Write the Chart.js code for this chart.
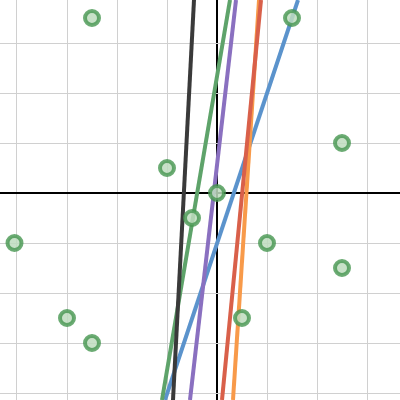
<!DOCTYPE html>
<html>
<head>
<meta charset="utf-8">
<script src="https://cdn.jsdelivr.net/npm/chart.js@4"></script>
<style>
  html, body { margin: 0; padding: 0; background: #fff; }
  #wrap { width: 400px; height: 400px; }
</style>
</head>
<body>
<div id="wrap"><canvas id="c"></canvas></div>
<script>
'use strict';

const X_RANGE = [-4.34, 3.66];
const Y_RANGE = [-4.14, 3.86];

const pointsX = [-2.5, 1.5, -1, 0, -0.5, -4.05, 1, 2.5, 2.5, -3, -2.5, 0.5];
const pointsY = [3.5, 3.5, 0.5, 0, -0.5, -1, -1, 1, -1.5, -2.5, -3, -2.5];

// each line: [x at bottom, x at top]; first listed is drawn on top
const lineNames = ['black', 'red', 'orange', 'purple', 'green', 'blue'];
const lineBottomX = [-0.88, 0.1, 0.32, -0.54, -1.1, -1.04];
const lineTopX = [-0.46, 0.88, 0.84, 0.38, 0.26, 1.62];
const lineColors = ['#3a3a3a', '#d9604a', '#f89a4a', '#8a70c0', '#5ea36a', '#5b93cc'];

const lineSets = lineNames.map((name, i) => ({
    label: name,
    type: 'line',
    data: [{ x: lineBottomX[i], y: Y_RANGE[0] }, { x: lineTopX[i], y: Y_RANGE[1] }],
    borderColor: lineColors[i],
    borderWidth: 4,
    pointRadius: 0,
    fill: false,
}));

const pointSet = {
    label: 'points',
    type: 'scatter',
    data: pointsX.map((x, i) => ({ x, y: pointsY[i] })),
    pointRadius: 7,
    borderWidth: 4,
    borderColor: 'rgba(70,150,80,0.8)',
    backgroundColor: 'rgba(190,220,190,0.85)',
};

function gridOpts() {
    return {
        color: c => c.tick && c.tick.value === 0 ? '#000' : '#d0d0d0',
        lineWidth: c => c.tick && c.tick.value === 0 ? 2 : 1,
        drawTicks: false,
    };
}

const gridTicks = ax => { ax.ticks = [-4, -3, -2, -1, 0, 1, 2, 3].map(v => ({ value: v })); };

new Chart(document.getElementById('c'), {
    type: 'scatter',
    data: { datasets: [pointSet, ...lineSets] },
    options: {
        responsive: true,
        maintainAspectRatio: false,
        animation: false,
        layout: { padding: 0, autoPadding: false },
        plugins: { legend: { display: false }, tooltip: { enabled: false } },
        scales: {
            x: {
                type: 'linear', min: X_RANGE[0], max: X_RANGE[1],
                ticks: { display: false, padding: 0 },
                afterBuildTicks: gridTicks,
                grid: gridOpts(), border: { display: false },
            },
            y: {
                type: 'linear', min: Y_RANGE[0], max: Y_RANGE[1],
                ticks: { display: false, padding: 0 },
                afterBuildTicks: gridTicks,
                grid: gridOpts(), border: { display: false },
            },
        },
    },
});
</script>
</body>
</html>
